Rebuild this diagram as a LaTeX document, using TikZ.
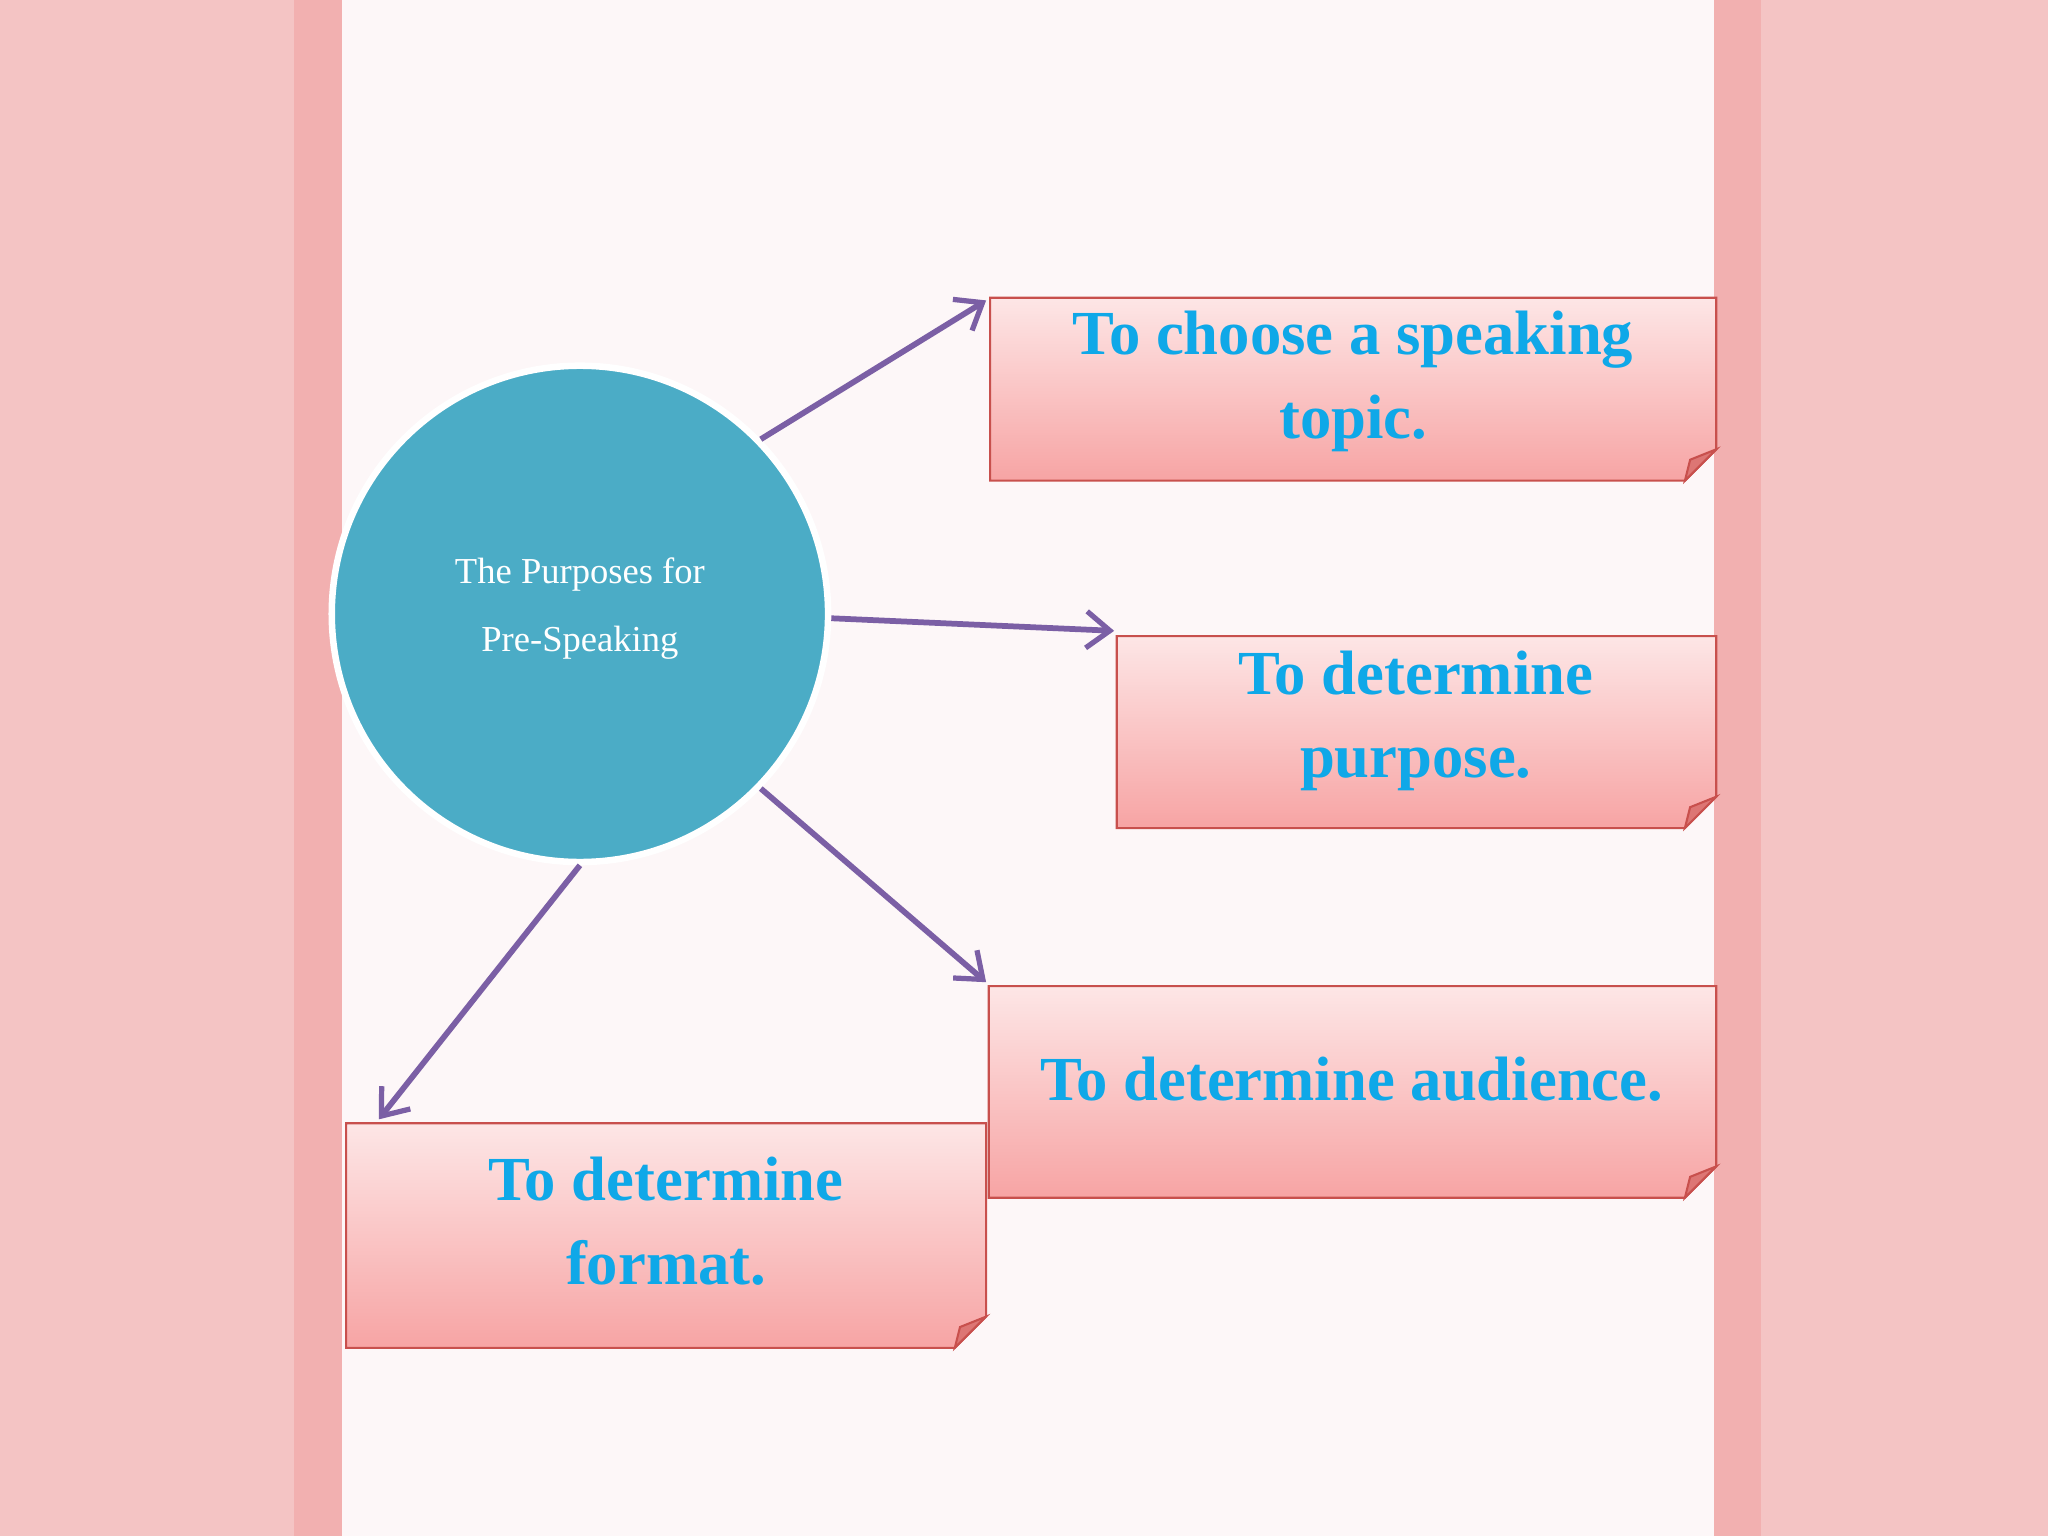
\documentclass[tikz,border=0pt]{standalone}
\usepackage{fontspec}
\setmainfont{Liberation Serif}
\usetikzlibrary{arrows.meta}
\definecolor{bandpink}{HTML}{F4C4C4}
\definecolor{stripe}{HTML}{F2B0B0}
\definecolor{mid}{HTML}{FCF0F1}
\definecolor{circ}{HTML}{4BACC6}
\definecolor{txtblue}{HTML}{0FA8E8}
\definecolor{boxtop}{HTML}{FDE6E6}
\definecolor{boxbot}{HTML}{F7A4A4}
\definecolor{boxedge}{HTML}{C8504D}
\definecolor{arr}{HTML}{7B5FA5}
\tikzset{
 boxtext/.style={text=txtblue,font=\bfseries\fontsize{24}{32}\selectfont,align=center},
 conn/.style={draw=arr,line width=2.2pt,-{Straight Barb[length=9pt,width=14pt,line width=2pt]}}
}
\newcommand{\foldbox}[4]{%
 \shade[top color=boxtop,bottom color=boxbot,draw=boxedge,line width=0.8pt]
  (#1,#2) -- (#3,#2) -- (#3,#4-24) -- (#3-24,#4) -- (#1,#4) -- cycle;
 \fill[boxedge!55!boxbot,draw=boxedge,line width=0.8pt] (#3,#4-24) -- (#3-20,#4-16) -- (#3-24,#4) -- cycle;
}
\begin{document}
\begin{tikzpicture}[x=0.5pt,y=-0.5pt]
\useasboundingbox (0,0) rectangle (1568,1176);
\fill[mid] (0,0) rectangle (1568,1176);
\fill[bandpink] (0,0) rectangle (230,1176);
\fill[stripe] (225,0) rectangle (262,1176);
\fill[bandpink] (1345,0) rectangle (1568,1176);
\fill[stripe] (1312,0) rectangle (1348,1176);
\fill[white,opacity=0.5] (262,0) rectangle (1312,1176);
\foldbox{758}{228}{1314}{368}
\foldbox{855}{487}{1314}{634}
\foldbox{757}{755}{1314}{917}
\foldbox{265}{860}{755}{1032}
\node[circle,fill=circ,draw=white,line width=2.5pt,minimum size=190pt,inner sep=0pt] (c) at (444,470) {};
\node[text=white,font=\fontsize{14}{26}\selectfont,align=center] (ct) at (444,466) {The Purposes for\\Pre-Speaking};
\node[boxtext] (b1) at (1036,292) {To choose a speaking\\topic.};
\node[boxtext] (b2) at (1084,552) {To determine\\purpose.};
\node[boxtext] (b3) at (1035,826) {To determine audience.};
\node[boxtext] (b4) at (510,935) {To determine\\format.};
\coordinate (e1) at (755,230);
\coordinate (e2) at (853,483);
\coordinate (e3) at (755,752);
\coordinate (e4) at (290,857);
\draw[conn] (c.44) -- (e1);
\draw[conn] (c.-1) -- (e2);
\draw[conn] (c.-44) -- (e3);
\draw[conn] (c.-90) -- (e4);
\end{tikzpicture}
\end{document}
